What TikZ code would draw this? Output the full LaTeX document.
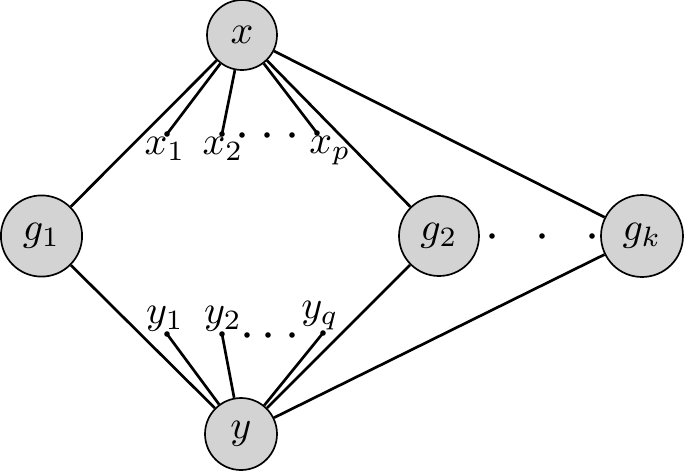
\documentclass[tikz,border=0pt]{standalone}
\usetikzlibrary{calc}
\definecolor{nodegray}{RGB}{211,211,211}
\begin{document}
\begin{tikzpicture}[x=0.25pt,y=-0.25pt,
  vnode/.style={circle,draw=black,line width=0.42pt,fill=nodegray,inner sep=0pt},
  pt/.style={circle,fill=black,inner sep=0pt,minimum size=1.4pt},
  edge/.style={line width=0.67pt,black},
  lbl/.style={inner sep=0.3pt}]
\useasboundingbox (0,0) rectangle (685,472);
\node[vnode,minimum size=17.5pt] (x) at (242,35) {$x$};
\node[vnode,minimum size=18pt] (y) at (241,434) {$y$};
\node[vnode,minimum size=20.3pt] (g1) at (41.5,236) {$g_1$};
\node[vnode,minimum size=20pt] (g2) at (439,236) {$g_2$};
\node[vnode,minimum size=20.5pt] (gk) at (642,236) {$g_k$};
% x-side points
\node[pt] (x1) at (167,134) {};
\node[pt] (x2) at (222,134) {};
\node[pt] (xp) at (317,133) {};
\node[lbl,anchor=north] (x1l) at ($(x1)+(-2,1)$) {$x_1$};
\node[lbl,anchor=north] (x2l) at ($(x2)+(1,1)$) {$x_2$};
\node[lbl,anchor=north] (xpl) at ($(xp)+(13,1)$) {$x_p$};
\node[pt] (xd1) at (242,135) {};
\node[pt] (xd2) at (267,135) {};
\node[pt] (xd3) at (292,135) {};
% y-side points
\node[pt] (y1) at (167,334) {};
\node[pt] (y2) at (222,334) {};
\node[pt] (yq) at (323,333) {};
\node[lbl,anchor=south] (y1l) at ($(y1)+(-2,-1)$) {$y_1$};
\node[lbl,anchor=south] (y2l) at ($(y2)+(1,-1)$) {$y_2$};
\node[lbl,anchor=south] (yql) at ($(yq)+(-3,-1)$) {$y_q$};
\node[pt] (yd1) at (247,335) {};
\node[pt] (yd2) at (268,335) {};
\node[pt] (yd3) at (292,335) {};
% dots between g2 and gk
\node[pt] (gd1) at (492,236) {};
\node[pt] (gd2) at (542,236) {};
\node[pt] (gd3) at (592,236) {};
% edges
\draw[edge] (x) -- (g1);
\draw[edge] (x) -- (x1.center);
\draw[edge] (x) -- (x2.center);
\draw[edge] (x) -- (xp.center);
\draw[edge] (x) -- (g2);
\draw[edge] (x) -- (gk);
\draw[edge] (y) -- (g1);
\draw[edge] (y) -- (y1.center);
\draw[edge] (y) -- (y2.center);
\draw[edge] (y) -- (yq.center);
\draw[edge] (y) -- (g2);
\draw[edge] (y) -- (gk);
\end{tikzpicture}
\end{document}
